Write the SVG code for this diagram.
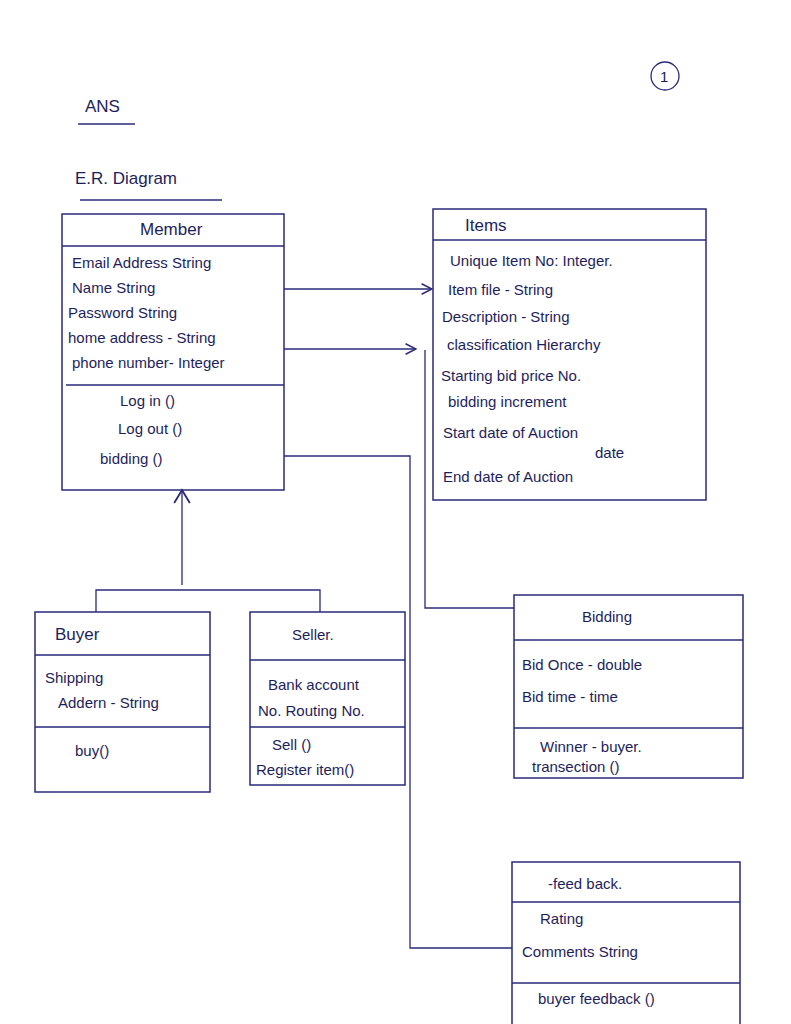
<svg xmlns="http://www.w3.org/2000/svg" width="791" height="1024" viewBox="0 0 791 1024">
<style>
.b{fill:none;stroke:#2a2a7a;stroke-width:1.5}
.l{fill:none;stroke:#2a2a7a;stroke-width:1.3}
text{font-family:"Liberation Sans",sans-serif;font-size:15px;fill:#1e1e5a}
.t{font-size:17px}
</style>
<defs><marker id="a" markerWidth="10" markerHeight="10" refX="9" refY="5" orient="auto"><path d="M1,1 L9,5 L1,9" fill="none" stroke="#2a2a7a" stroke-width="1.2"/></marker>
<marker id="u" markerWidth="14" markerHeight="14" refX="12" refY="7" orient="auto"><path d="M2,1 L12,7 L2,13" fill="none" stroke="#2a2a7a" stroke-width="1.4"/></marker></defs>
<rect width="791" height="1024" fill="#fff"/>
<g id="header">
<text x="85" y="112" class="t">ANS</text><path class="l" d="M78 124 H135"/>
<text x="75" y="184" class="t">E.R. Diagram</text><path class="l" d="M80 200 H222"/>
<circle cx="665" cy="76" r="14" class="l"/><text x="660" y="82">1</text>
</g>
<g id="member"><rect class="b" x="62" y="214" width="222" height="276"/><path class="b" d="M62 246 H284 M66 385 H284"/>
<text x="140" y="235" class="t">Member</text>
<text x="72" y="268">Email Address String</text><text x="72" y="293">Name String</text><text x="68" y="318">Password String</text><text x="68" y="343">home address - String</text><text x="72" y="368">phone number- Integer</text>
<text x="120" y="406">Log in ()</text><text x="118" y="434">Log out ()</text><text x="100" y="464">bidding ()</text></g>
<g id="items"><rect class="b" x="433" y="209" width="273" height="291"/><path class="b" d="M433 240 H706"/>
<text x="465" y="231" class="t">Items</text>
<text x="450" y="266">Unique Item No: Integer.</text><text x="448" y="295">Item file - String</text><text x="442" y="322">Description - String</text><text x="447" y="350">classification Hierarchy</text><text x="441" y="381">Starting bid price No.</text><text x="448" y="407">bidding increment</text><text x="443" y="438">Start date of Auction</text><text x="595" y="458">date</text><text x="443" y="482">End date of Auction</text></g>
<g id="buyer"><rect class="b" x="35" y="612" width="175" height="180"/><path class="b" d="M35 655 H210 M35 727 H210"/>
<text x="55" y="640" class="t">Buyer</text><text x="45" y="683">Shipping</text><text x="58" y="708">Addern - String</text><text x="75" y="756">buy()</text></g>
<g id="seller"><rect class="b" x="250" y="612" width="155" height="173"/><path class="b" d="M250 660 H405 M250 727 H405"/>
<text x="292" y="640">Seller.</text><text x="268" y="690">Bank account</text><text x="258" y="716">No. Routing No.</text><text x="272" y="750">Sell ()</text><text x="256" y="775">Register item()</text></g>
<g id="bidding"><rect class="b" x="514" y="595" width="229" height="183"/><path class="b" d="M514 640 H743 M514 728 H743"/>
<text x="582" y="622">Bidding</text><text x="522" y="670">Bid Once - double</text><text x="522" y="702">Bid time - time</text><text x="540" y="752">Winner - buyer.</text><text x="532" y="772">transection ()</text></g>
<g id="feedback"><rect class="b" x="512" y="862" width="228" height="170"/><path class="b" d="M512 902 H740 M512 983 H740"/>
<text x="548" y="889">-feed back.</text><text x="540" y="924">Rating</text><text x="522" y="957">Comments String</text><text x="538" y="1004">buyer feedback ()</text></g>
<g id="connectors">
<path class="l" d="M284 289 H432" marker-end="url(#a)"/>
<path class="l" d="M284 349 H416" marker-end="url(#a)"/>
<path class="l" d="M425 350 V608 H514"/>
<path class="l" d="M284 456 H410 V948 H512"/>
<path class="l" d="M182 585 V490" marker-end="url(#u)"/>
<path class="l" d="M96 612 V590 H320 V612"/>
</g>
</svg>
